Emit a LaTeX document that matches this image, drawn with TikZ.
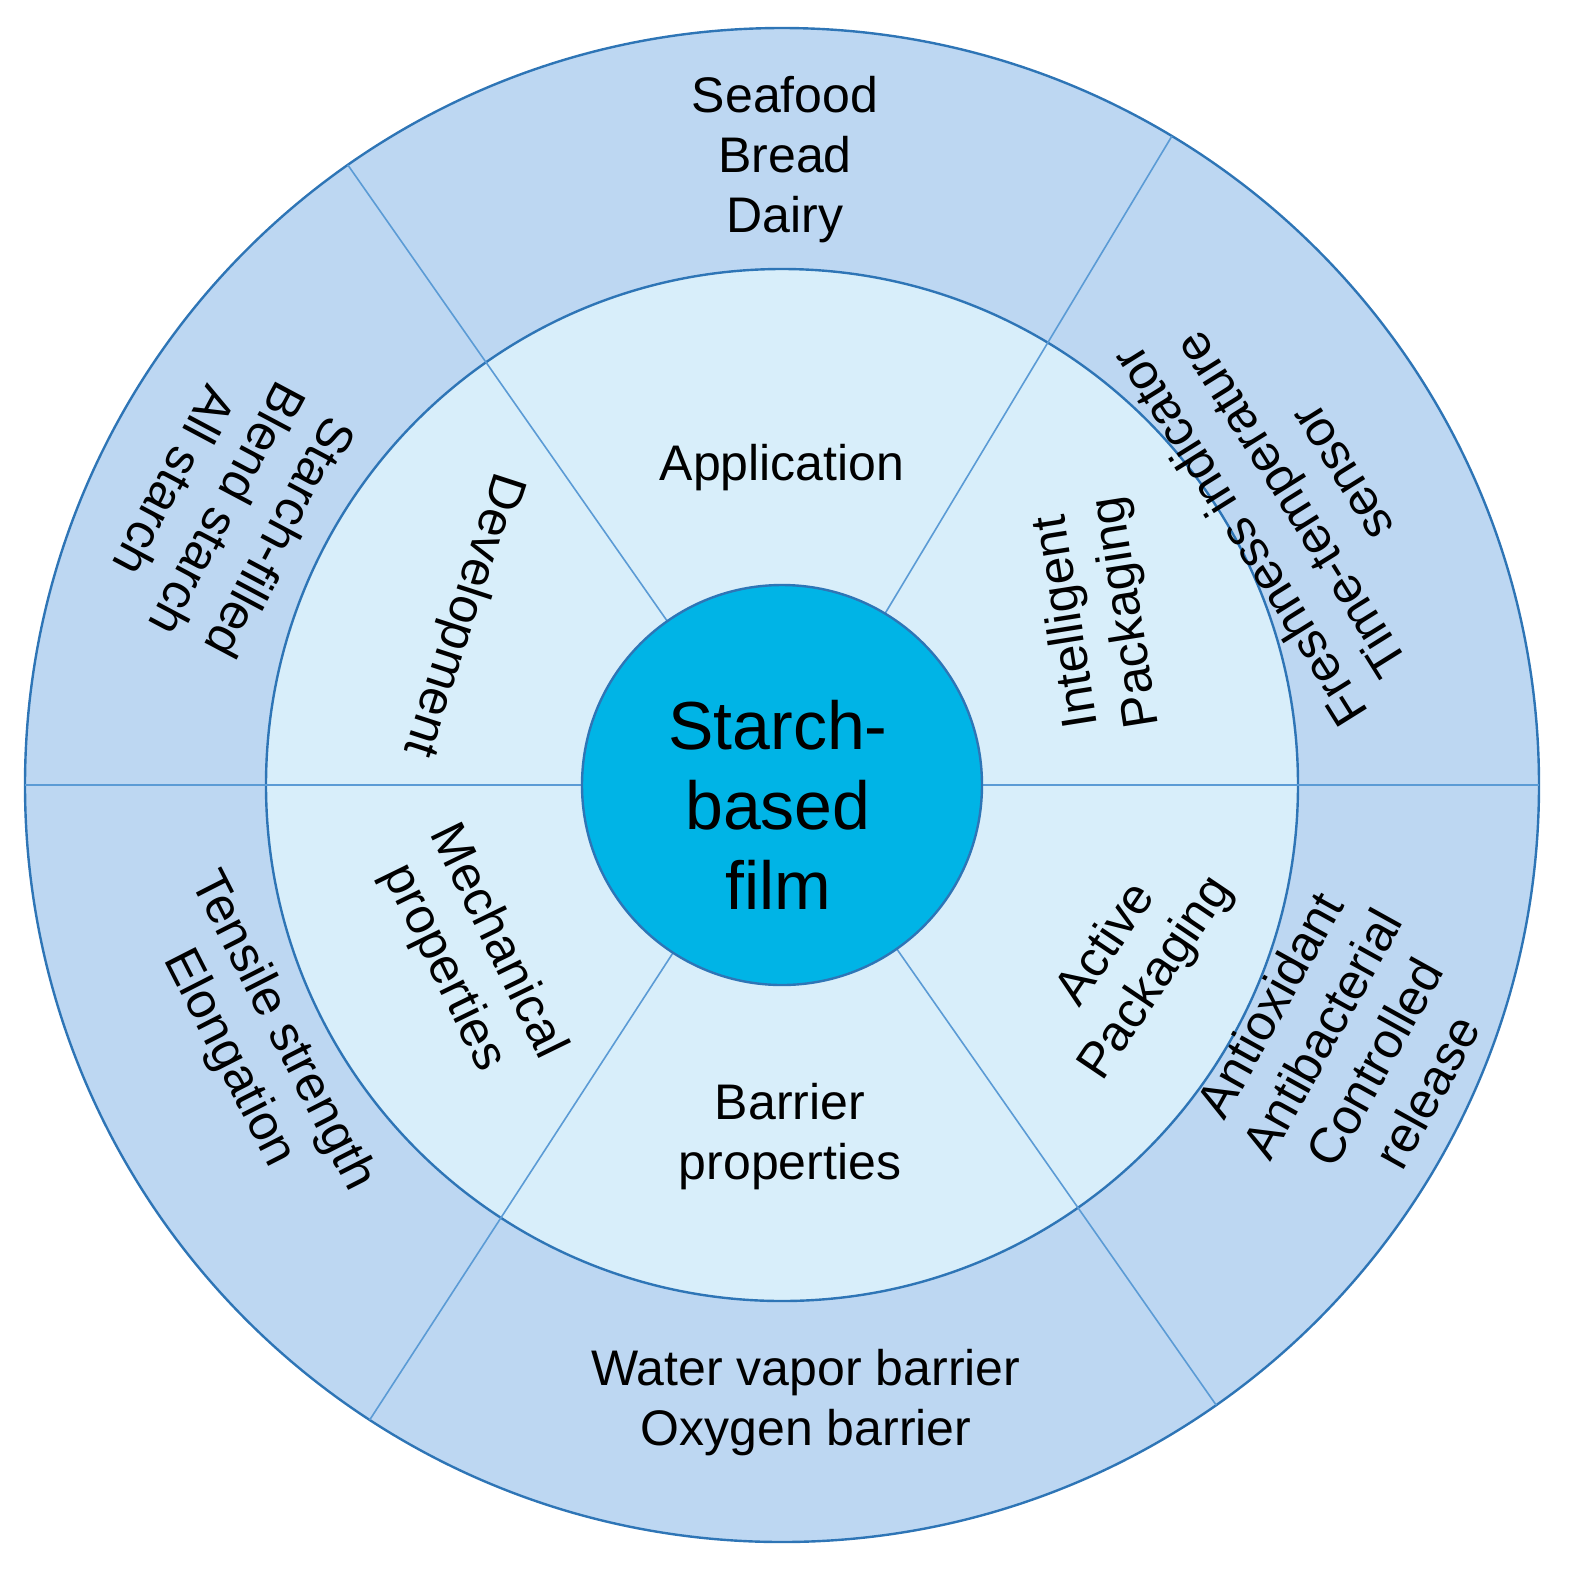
\documentclass[tikz,border=0pt]{standalone}
\usepackage{fontspec}
\setmainfont{Liberation Sans}
\usetikzlibrary{calc}
\definecolor{outerc}{HTML}{BDD7F2}
\definecolor{midc}{HTML}{D8EEFA}
\definecolor{corec}{HTML}{00B4E6}
\definecolor{edgec}{HTML}{2E75B6}
\definecolor{linec}{HTML}{5B9BD5}
\begin{document}
\begin{tikzpicture}[x=0.5pt,y=-0.5pt,
  lbl/.style={align=center,font=\fontsize{25}{30}\selectfont,inner sep=0pt},
  ring/.style={draw=edgec,line width=1.2pt}]
\useasboundingbox (0,0) rectangle (1573,1581);
\coordinate (c) at (782,785);
\fill[outerc] (c) circle (378.5pt);
\draw[ring] (c) circle (378.5pt);
\fill[midc] (c) circle (258pt);
\draw[ring] (c) circle (258pt);
\foreach \a in {0,59,125,180,237,305}
  \draw[linec,line width=0.8pt] ($(c)+(\a:100pt)$) -- ($(c)+(\a:378.5pt)$);
\fill[corec] (c) circle (100pt);
\draw[ring] (c) circle (100pt);
\node[lbl,font=\fontsize{34}{40}\selectfont] (core) at (778,805) {Starch-\\based\\film};
\node[lbl] (app) at (782,468) {Application};
\node[lbl] (seafood) at (785,160) {Seafood\\Bread\\Dairy};
\node[lbl] (dev) at (462,615) [rotate=-108] {Development};
\node[lbl] (starch) at (228,510) [rotate=-118] {Starch-filled\\Blend starch\\All starch};
\node[lbl] (intel) at (1098,617) [rotate=99] {Intelligent\\Packaging};
\node[lbl] (fresh) at (1290,505) [rotate=122] {Freshness indicator\\Time-temperature\\sensor};
\node[lbl] (active) at (1132,962) [rotate=56] {Active\\Packaging};
\node[lbl] (anti) at (1348,1048) [rotate=61] {Antioxidant\\Antibacterial\\Controlled\\release};
\node[lbl] (mech) at (470,955) [rotate=-64] {Mechanical\\properties};
\node[lbl] (tensile) at (255,1045) [rotate=-63] {Tensile strength\\Elongation};
\node[lbl] (barrier) at (790,1137) {Barrier\\properties};
\node[lbl] (water) at (806,1403) {Water vapor barrier\\Oxygen barrier};
\end{tikzpicture}
\end{document}
